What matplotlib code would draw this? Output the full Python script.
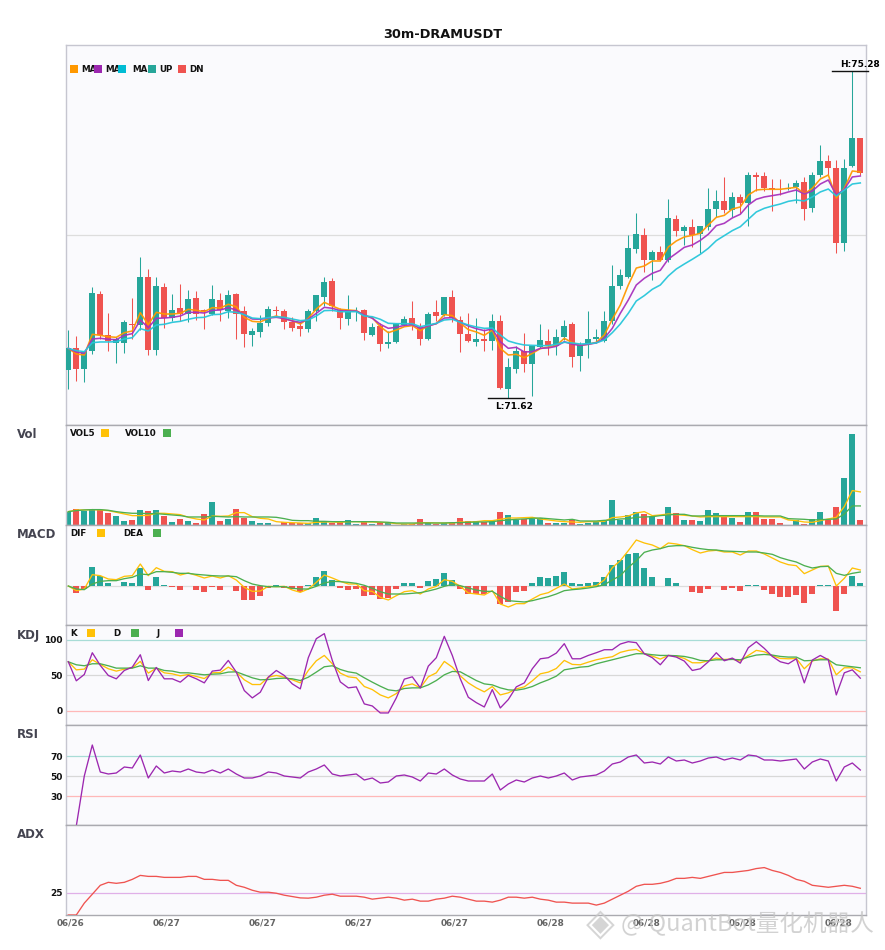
#!/usr/bin/env python
"""
30m candles of DRAMUSDT with Vol, MACD, KDJ, RSI and ADX panels
"""

import matplotlib
matplotlib.use('Agg')
import matplotlib.pyplot as plt
from matplotlib.patches import Rectangle
from matplotlib.transforms import ScaledTranslation

# candles
opens = [71.931,72.178,71.942,72.144,72.782,72.323,72.234,72.234,72.443,72.435,
	72.973,72.155,72.861,72.513,72.625,72.558,72.737,72.603,72.558,72.715,
	72.592,72.782,72.592,72.323,72.357,72.457,72.599,72.592,72.469,72.424,
	72.390,72.592,72.749,72.928,72.603,72.502,72.584,72.603,72.323,72.424,
	72.222,72.245,72.435,72.513,72.413,72.278,72.581,72.547,72.749,72.491,
	72.334,72.245,72.278,72.256,72.480,71.718,71.942,72.144,71.998,72.189,
	72.256,72.200,72.301,72.446,72.088,72.222,72.282,72.256,72.480,72.872,
	72.973,73.286,73.443,73.163,73.253,73.163,73.622,73.488,73.533,73.454,
	73.533,73.734,73.824,73.723,73.869,73.802,74.115,74.104,73.970,73.962,
	73.955,73.981,74.037,73.746,74.115,74.272,74.194,73.354,74.216,74.529]
closes = [72.178,71.942,72.144,72.793,72.323,72.256,72.278,72.469,72.435,72.973,
	72.155,72.872,72.513,72.603,72.558,72.726,72.558,72.592,72.726,72.603,
	72.771,72.558,72.334,72.368,72.457,72.614,72.592,72.469,72.401,72.390,
	72.592,72.771,72.917,72.648,72.513,72.603,72.592,72.346,72.413,72.222,
	72.245,72.446,72.502,72.435,72.278,72.558,72.536,72.749,72.513,72.334,
	72.256,72.278,72.260,72.480,71.730,71.965,72.144,71.998,72.200,72.267,
	72.211,72.301,72.424,72.077,72.211,72.278,72.301,72.480,72.872,72.995,
	73.297,73.454,73.163,73.253,73.163,73.633,73.488,73.533,73.443,73.544,
	73.734,73.824,73.723,73.869,73.802,74.115,74.093,73.970,73.955,73.955,
	73.970,74.026,73.734,74.115,74.272,74.194,73.354,74.194,74.529,74.138]
highs = [72.379,72.312,72.144,72.861,72.816,72.569,72.301,72.491,72.737,73.197,
	73.062,72.973,72.905,72.782,72.894,72.827,72.816,72.614,72.883,72.793,
	72.827,72.793,72.648,72.401,72.547,72.648,72.648,72.614,72.525,72.469,
	72.614,72.771,72.973,72.961,72.625,72.771,72.637,72.614,72.457,72.457,
	72.368,72.457,72.536,72.704,72.457,72.581,72.715,72.749,72.827,72.536,
	72.569,72.513,72.390,72.558,72.547,72.066,72.200,72.346,72.200,72.446,
	72.390,72.390,72.491,72.469,72.245,72.592,72.390,72.592,73.107,73.062,
	73.443,73.689,73.521,73.275,73.320,73.846,73.667,73.555,73.622,73.544,
	73.970,73.947,74.093,73.925,73.902,74.149,74.149,74.149,74.070,74.070,
	74.026,74.059,74.093,74.149,74.451,74.339,74.283,74.294,75.28,74.529]
lows = [71.718,71.808,71.797,72.110,72.278,72.144,72.010,72.122,72.278,72.379,
	72.099,72.099,72.401,72.480,72.480,72.469,72.491,72.390,72.547,72.480,
	72.513,72.278,72.189,72.200,72.301,72.424,72.536,72.390,72.368,72.312,
	72.357,72.480,72.648,72.592,72.390,72.435,72.480,72.267,72.312,72.144,
	72.178,72.234,72.424,72.379,72.211,72.267,72.480,72.536,72.469,72.133,
	72.245,72.200,72.144,72.155,71.718,71.62,71.898,71.909,71.640,72.178,
	72.099,72.099,72.267,71.965,71.920,72.066,72.230,72.245,72.446,72.838,
	72.961,73.241,73.029,72.939,73.152,73.141,73.432,73.331,73.312,73.241,
	73.499,73.648,73.690,73.645,73.690,73.544,73.936,73.936,73.712,73.891,
	73.947,73.802,73.611,73.701,74.093,74.115,73.242,73.264,74.205,74.115]

# moving averages
ma_a = [72.174,72.110,72.099,72.331,72.319,72.304,72.297,72.349,72.368,72.573,
	72.439,72.577,72.558,72.558,72.566,72.611,72.599,72.584,72.629,72.625,
	72.667,72.640,72.521,72.476,72.469,72.510,72.536,72.506,72.484,72.446,
	72.510,72.614,72.689,72.648,72.611,72.603,72.596,72.543,72.517,72.416,
	72.349,72.379,72.416,72.428,72.372,72.428,72.450,72.551,72.540,72.457,
	72.383,72.357,72.319,72.379,72.174,72.099,72.107,72.069,72.118,72.170,
	72.189,72.204,72.286,72.237,72.207,72.219,72.241,72.323,72.499,72.659,
	72.883,73.073,73.096,73.152,73.152,73.309,73.376,73.421,73.439,73.462,
	73.555,73.641,73.663,73.734,73.757,73.891,73.947,73.955,73.955,73.955,
	73.966,73.977,73.902,73.966,74.070,74.115,73.858,73.966,74.160,74.149]
ma_b = [72.174,72.133,72.118,72.278,72.286,72.275,72.271,72.319,72.338,72.491,
	72.405,72.510,72.513,72.521,72.536,72.577,72.577,72.569,72.599,72.603,
	72.629,72.603,72.547,72.502,72.499,72.513,72.521,72.506,72.480,72.465,
	72.499,72.566,72.633,72.622,72.596,72.592,72.592,72.547,72.510,72.443,
	72.398,72.409,72.431,72.439,72.398,72.424,72.450,72.513,72.517,72.465,
	72.424,72.394,72.372,72.390,72.248,72.174,72.185,72.133,72.136,72.174,
	72.178,72.196,72.248,72.219,72.207,72.219,72.234,72.286,72.398,72.566,
	72.715,72.883,72.958,73.014,73.047,73.174,73.238,73.305,73.331,73.383,
	73.451,73.548,73.574,73.634,73.675,73.779,73.843,73.869,73.884,73.899,
	73.925,73.947,73.902,73.936,74.014,74.059,73.891,73.955,74.093,74.104]
ma_c = [72.174,72.148,72.136,72.237,72.245,72.245,72.248,72.278,72.293,72.394,
	72.368,72.435,72.443,72.465,72.476,72.499,72.517,72.521,72.551,72.555,
	72.584,72.577,72.551,72.513,72.506,72.517,72.528,72.521,72.502,72.484,
	72.491,72.536,72.596,72.599,72.584,72.584,72.584,72.536,72.528,72.499,
	72.454,72.450,72.450,72.450,72.416,72.435,72.454,72.491,72.499,72.465,
	72.435,72.413,72.398,72.401,72.323,72.256,72.230,72.211,72.207,72.204,
	72.204,72.219,72.241,72.234,72.222,72.226,72.234,72.267,72.349,72.446,
	72.566,72.704,72.764,72.835,72.883,72.984,73.062,73.118,73.171,73.227,
	73.294,73.380,73.436,73.492,73.536,73.619,73.701,73.742,73.768,73.790,
	73.820,73.835,73.824,73.869,73.925,73.958,73.880,73.947,74.014,74.026]

# volume, no scale is shown so the unit is arbitrary
vol = [40,49,43,49,45,37,28,13,16,46,43,46,28,10,19,13,7,34,70,13,
	19,49,22,13,7,7,1,10,5,5,5,22,9,5,13,16,4,8,4,8,
	5,1,2,3,19,5,4,5,5,22,13,13,9,9,40,31,16,19,19,22,
	7,7,7,16,4,7,9,13,76,16,31,40,34,28,19,55,37,16,16,13,
	46,37,25,22,10,40,40,19,19,7,1,16,4,19,40,16,55,142,271,16]
vol5 = [40,45,45,46,45,43,38,33,28,28,29,35,35,33,31,23,18,15,27,26,
	27,37,37,25,20,18,10,8,7,6,5,8,9,9,8,10,10,9,9,8,
	7,4,3,3,7,7,6,6,6,9,9,10,13,13,17,21,21,22,23,18,
	15,12,10,9,8,10,10,11,22,24,27,36,40,28,30,33,31,29,27,24,
	25,25,25,25,25,25,25,24,24,24,15,13,9,8,13,18,23,55,103,99]
vol10 = [40,43,45,46,46,44,40,37,35,35,34,34,32,30,28,24,24,24,26,25,
	24,25,24,24,24,24,23,19,14,13,13,11,11,10,10,10,10,10,10,9,
	8,6,6,6,6,6,6,6,7,7,8,9,9,10,13,15,17,18,20,21,
	19,17,15,17,12,12,12,14,15,18,19,23,24,25,28,30,32,32,27,27,
	28,28,28,28,28,28,28,27,27,27,19,18,17,15,16,17,18,33,57,57]

# macd, arbitrary unit as well
hist = [0,-20,-8,58,31,10,0,13,10,55,-11,28,4,-2,-11,0,-11,-17,-2,-11,
	0,-14,-41,-41,-29,-5,4,-5,-8,-17,4,28,46,19,-5,-11,-8,-29,-26,-38,
	-35,-8,10,10,-5,16,22,40,19,-8,-23,-23,-23,0,-53,-47,-17,-14,10,28,
	25,31,43,10,7,10,13,28,64,79,97,100,55,28,0,25,10,0,-17,-20,
	-8,0,-11,-5,-14,4,4,-11,-23,-32,-32,-26,-50,-23,4,4,-74,-23,31,10]
dif = [0,-14,-9,34,31,21,19,29,31,66,31,55,44,43,33,39,32,24,30,24,
	31,18,-4,-16,-15,-1,-2,-1,-12,-19,-9,11,33,24,14,6,6,-14,-16,-34,
	-42,-29,-17,-14,-24,-9,-1,19,14,-1,-21,-24,-27,-14,-54,-63,-53,-53,-39,-26,
	-20,-7,6,-9,-6,-2,1,18,55,76,106,138,129,123,112,129,126,121,109,99,
	105,107,102,102,93,105,105,96,84,72,64,61,37,48,59,60,0,23,54,48]
dea = [0,-9,-11,6,14,16,16,22,26,36,34,43,43,41,38,38,35,33,31,30,
	30,28,16,6,1,-2,-2,-2,-7,-9,-9,-1,9,14,13,11,8,2,-7,-17,
	-24,-24,-24,-22,-20,-15,-9,-1,5,1,-6,-12,-16,-16,-31,-44,-46,-48,-44,-38,
	-32,-24,-14,-11,-9,-6,-2,4,18,31,56,76,101,108,112,119,121,121,116,112,
	109,108,105,104,103,102,102,99,95,85,78,72,61,54,58,59,38,32,38,42]

# kdj
k_line = [69.0,57.7,58.7,71.8,65.3,59.2,55.9,58.7,60.6,69.5,53.1,60.1,53.5,52.1,49.3,51.2,48.4,45.5,53.5,54.0,
	61.5,54.5,43.7,37.1,37.1,47.4,49.8,47.4,43.7,39.4,56.8,70.4,77.9,66.2,53.1,47.9,46.5,34.3,30.0,22.5,
	18.3,24.4,35.2,38.0,32.4,47.9,53.5,69.5,61.5,49.3,39.4,32.4,26.8,34.3,22.5,25.4,31.0,33.8,42.3,52.1,
	54.5,59.6,70.9,65.3,64.8,68.5,71.8,74.2,76.1,82.2,85.0,86.4,80.3,77.0,72.8,77.9,77.0,73.7,67.6,67.6,
	70.4,74.2,72.3,72.8,70.0,77.9,85.0,83.1,77.5,73.7,73.2,73.7,59.2,70.0,73.2,72.8,50.7,60.6,60.6,54.9]
d_line = [69.0,64.8,63.4,66.2,66.2,63.4,60.1,60.1,60.1,63.4,60.1,60.1,56.8,55.9,53.5,53.5,52.1,50.7,51.6,52.1,
	54.5,54.9,50.7,46.5,43.7,44.1,45.5,46.0,45.1,42.7,47.4,54.5,62.0,63.4,58.2,54.9,53.1,46.5,40.4,34.7,
	29.6,28.2,31.5,32.4,32.4,36.6,42.7,50.7,55.4,54.9,48.8,42.7,38.0,36.6,32.4,29.6,29.1,31.0,34.3,39.4,
	43.7,48.8,57.7,59.6,61.5,62.4,66.2,69.0,71.8,74.6,77.5,80.3,80.3,78.9,77.9,77.9,77.5,76.5,74.2,70.9,
	70.4,71.8,71.8,72.3,71.8,75.6,78.4,79.3,78.4,76.5,75.6,75.6,70.4,70.9,71.8,71.8,64.8,63.4,62.0,60.6]
j_line = [69.0,42.3,51.2,81.7,63.9,49.8,45.1,56.8,61.5,78.9,42.7,61.0,45.1,45.1,40.4,49.8,45.1,39.4,55.9,57.3,
	70.9,54.5,28.6,18.3,26.3,47.4,56.8,49.8,38.0,31.0,74.7,101.4,108.5,70.9,40.8,32.4,33.8,9.9,7.0,-2.8,
	-2.8,18.3,44.6,47.9,32.4,62.9,74.7,104.7,77.9,45.1,19.2,11.7,5.6,30.0,4.2,16.0,33.8,39.4,59.2,73.2,
	74.7,81.2,94.4,73.2,73.2,77.9,81.7,85.9,85.9,93.9,97.2,95.8,80.3,74.7,64.8,77.9,75.6,70.0,56.8,59.2,
	69.0,81.7,70.4,74.2,67.1,88.7,97.2,87.8,76.5,69.0,66.2,73.2,39.4,71.4,77.9,71.8,22.5,53.5,57.7,46.0]

rsi = [0,0,50,81,54,52,53,59,58,71,48,60,53,55,54,57,54,53,56,53,
	57,52,48,48,50,54,53,50,49,48,54,57,61,52,50,51,52,46,48,43,
	44,50,51,49,45,53,52,57,51,47,45,45,45,52,36,42,46,44,48,50,
	48,50,53,46,49,50,51,55,62,64,69,71,63,64,62,69,65,66,63,65,
	68,69,66,68,66,71,70,66,66,65,66,67,57,64,67,65,45,59,63,56]
adx = [0,0,13.2,23.1,33.0,36.3,35.2,36.3,39.6,44.0,42.9,42.9,41.8,41.8,41.8,42.9,42.9,39.6,39.6,38.5,
	38.5,33.0,30.8,27.5,25.3,25.3,24.2,22.0,20.5,19.0,18.7,19.8,22.0,23.1,20.9,20.9,20.9,19.8,17.6,18.7,
	19.8,18.7,16.5,17.6,15.4,15.4,17.6,18.7,20.9,19.8,17.6,15.4,15.4,14.3,16.5,19.8,19.8,18.7,19.8,17.6,
	16.5,14.3,14.3,13.2,13.2,13.2,11.0,13.2,17.6,22.0,26.4,31.9,34.1,34.1,35.2,37.4,40.7,40.7,41.8,40.7,
	42.9,45.1,47.3,47.3,48.4,49.5,51.6,52.7,49.5,47.3,44.0,39.6,37.4,33.0,31.9,30.8,31.9,33.0,31.9,29.7]

date_ticks = [0, 12, 24, 36, 48, 60, 72, 84, 96]
date_labels = ['06/26', '06/27', '06/27', '06/27', '06/27', '06/28', '06/28', '06/28', '06/28']
title = '30m-DRAMUSDT'
hi_text = 'H:75.28'
lo_text = 'L:71.62'
hi_idx = 98
lo_idx = 55

UP, DN = '#26a69a', '#ef5350'
YEL, GRN, PUR = '#ffc107', '#4caf50', '#9c27b0'
ORG, CYA = '#ff9800', '#26c6da'
WID, HGT = 885., 950.
XLIM = -0.35, 99.65


def panel(top, bottom):
	'Axes from pixel rows of the figure'
	ax = fig.add_axes([65.5/WID, 1-bottom/HGT, 800/WID, (bottom-top)/HGT], facecolor='#fafafd')
	ax.set_xlim(XLIM)
	ax.set_xticks([])
	ax.set_yticks([])
	for s in ['left', 'right']:
		ax.spines[s].set_color('#c6c6d0')
	for s in ['top', 'bottom']:
		ax.spines[s].set_color('#aaaab0')
	for s in ax.spines.values():
		s.set_linewidth(1.0)
	return ax

def ptext(x, y, s, **kw):
	'Text placed by figure pixels'
	kw.setdefault('fontweight', 'bold')
	kw.setdefault('va', 'center')
	return fig.text(x/WID, 1-y/HGT, s, **kw)

def legend(items, y, size=6.3):
	'Hand placed legend: label x, label, swatch x, colour'
	for xt, lab, xs, col in items:
		ptext(xt, y, lab, size=size, color='#111111')
		fig.add_artist(Rectangle((xs/WID, 1-(y+4)/HGT), 8/WID, 8/HGT, color=col,
			transform=fig.transFigure, lw=0, zorder=5))

def gridlines(ax, vals, cols):
	for v, c in zip(vals, cols):
		ax.axhline(v, color=c, lw=0.9, zorder=1)

def yticks(ax, vals):
	ax.set_yticks(vals)
	ax.set_yticklabels([str(v) for v in vals], size=6.5, fontweight='bold', color='#111111')
	ax.tick_params(axis='y', length=0, pad=2)


fig = plt.figure(figsize=(WID/100, HGT/100), dpi=100, facecolor='white')
xs = list(range(len(closes)))
cols = [UP if c >= o else DN for o, c in zip(opens, closes)]

# price panel
ax0 = panel(45, 425)
ax0.set_ylim(71.315, 75.571)
ax0.spines['top'].set_color('#c6c6d0')
gridlines(ax0, [73.44], ['#dddddd'])
wicks = ax0.vlines(xs, lows, highs, colors=cols, lw=0.75, zorder=2)
wicks.set_snap(True)
ax0.bar(xs, [abs(c-o) for o, c in zip(opens, closes)], width=0.75,
	bottom=[min(o, c) for o, c in zip(opens, closes)], color=cols, lw=0, zorder=3)
for ser, col in zip([ma_a, ma_b, ma_c], [ORG, '#a832bd', CYA]):
	ax0.plot(xs, ser, color=col, lw=1.15, alpha=0.95, zorder=4)
ax0.plot([hi_idx-2.54, hi_idx+1.96], [highs[hi_idx]]*2, color='#111111', lw=1.0, clip_on=False, zorder=6)
ax0.plot([lo_idx-2.54, lo_idx+1.96], [lows[lo_idx]]*2, color='#111111', lw=1.0, clip_on=False, zorder=6)
ax0.annotate(hi_text, (hi_idx, highs[hi_idx]), xytext=(8, 2), textcoords='offset pixels',
	ha='center', va='bottom', size=6.5, fontweight='bold', annotation_clip=False)
ax0.annotate(lo_text, (lo_idx, lows[lo_idx]), xytext=(6, -4), textcoords='offset pixels',
	ha='center', va='top', size=6.5, fontweight='bold', annotation_clip=False)
ptext(443, 35, title, size=9.3, ha='center', color='#111111')
legend([(81, 'MA', 70, ORG), (105, 'MA', 94, PUR), (132, 'MA', 118, '#00bcd4'),
	(159, 'UP', 148, UP), (189, 'DN', 178, DN)], 69)

# volume
ax1 = panel(425, 525)
ax1.set_ylim(0, 299)
ax1.bar(xs, vol, width=0.75, color=cols, lw=0, zorder=2)
ax1.plot(xs, vol5, color=YEL, lw=0.95, zorder=3)
ax1.plot(xs, vol10, color=GRN, lw=0.95, zorder=3)
legend([(70, 'VOL5', 101, YEL), (125, 'VOL10', 163, GRN)], 433)

# macd
ax2 = panel(525, 625)
ax2.set_ylim(-117, 183)
gridlines(ax2, [0], ['#dddddd'])
ax2.bar(xs, hist, width=0.75, color=[UP if h >= 0 else DN for h in hist], lw=0, zorder=2)
ax2.plot(xs, dif, color=YEL, lw=0.95, zorder=3)
ax2.plot(xs, dea, color=GRN, lw=0.95, zorder=3)
legend([(70, 'DIF', 97, YEL), (123, 'DEA', 153, GRN)], 533)

# kdj
ax3 = panel(625, 725)
ax3.set_ylim(-19.7, 120.6)
gridlines(ax3, [100, 50, 0], ['#a8dcd6', '#d8d8d8', '#ffb8b8'])
ax3.plot(xs, k_line, color=YEL, lw=0.95, zorder=3)
ax3.plot(xs, d_line, color=GRN, lw=0.95, zorder=3)
ax3.plot(xs, j_line, color=PUR, lw=0.95, zorder=4)
yticks(ax3, [100, 50, 0])
legend([(70, 'K', 87, YEL), (113, 'D', 131, GRN), (157, 'J', 175, PUR)], 633)

# rsi
ax4 = panel(725, 825)
ax4.set_ylim(1, 101)
gridlines(ax4, [70, 50, 30], ['#a8dcd6', '#d8d8d8', '#ffb8b8'])
ax4.plot(xs, rsi, color=PUR, lw=0.95, zorder=3)
yticks(ax4, [70, 50, 30])

# adx
ax5 = panel(825, 915)
ax5.set_ylim(0, 100)
gridlines(ax5, [25], ['#e0b0e8'])
ax5.plot(xs, adx, color=DN, lw=0.95, zorder=3)
yticks(ax5, [25])
ax5.set_xticks(date_ticks)
ax5.set_xticklabels(date_labels, size=6.4, fontweight='bold', color='#666666')
ax5.tick_params(axis='x', length=0, pad=2.5)
shift = ScaledTranslation(2/100., 0, fig.dpi_scale_trans)
for t in ax5.get_xticklabels():
	t.set_transform(t.get_transform()+shift)

for y, lab in zip([435, 535, 635, 735, 835], ['Vol', 'MACD', 'KDJ', 'RSI', 'ADX']):
	ptext(17, y, lab, size=8.5, color='#444450')

# watermark over the lower right corner
ptext(586, 925, '\u25c8', size=27, fontweight='normal', family='DejaVu Sans', color='#c8c8c8', alpha=0.75, zorder=9)
ptext(621, 924, '@ QuantBot量化机器人', size=17, fontweight='normal', color='#c4c4c4', alpha=0.75,
	family=['Noto Sans CJK SC', 'DejaVu Sans'], zorder=9)

fig.savefig('out.png', dpi=100)
